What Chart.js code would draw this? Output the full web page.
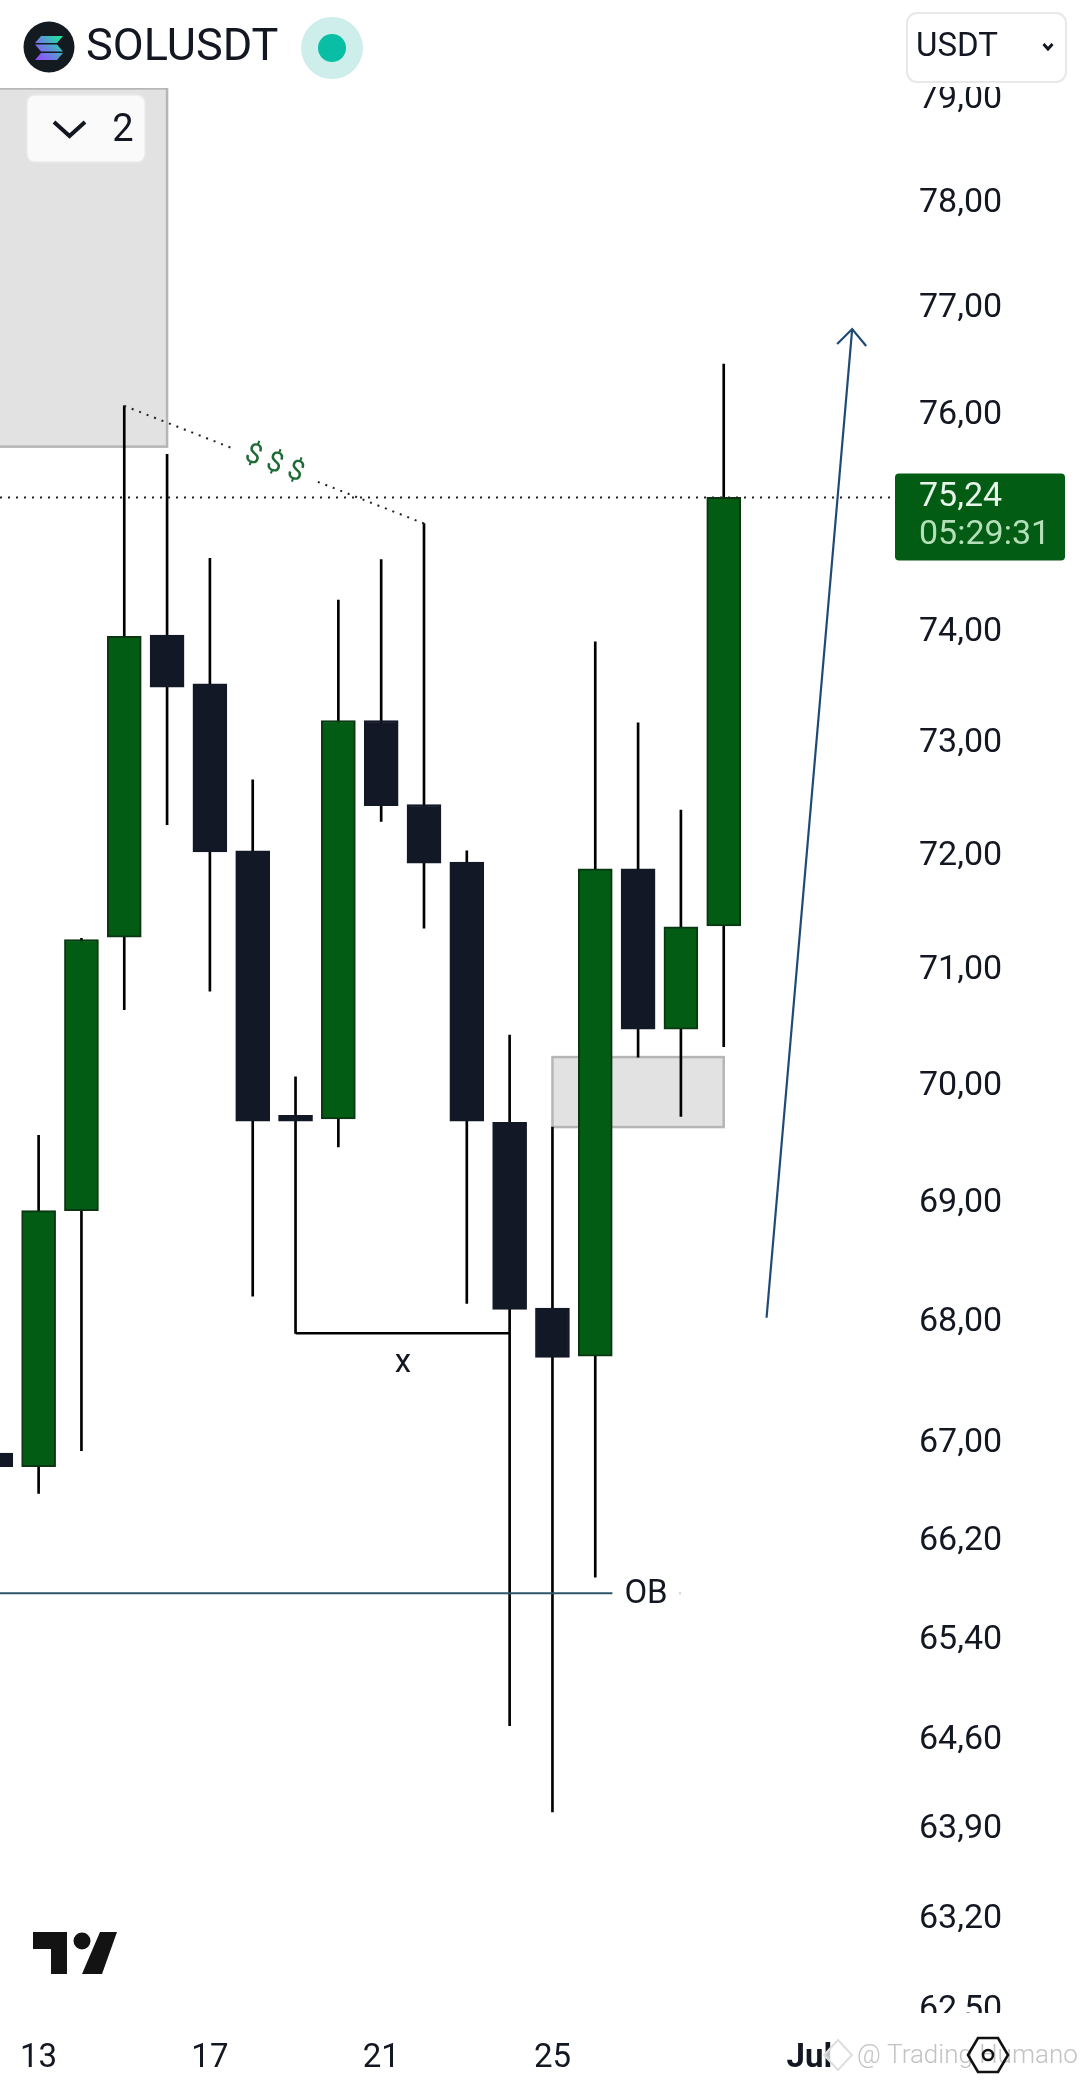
<!DOCTYPE html>
<html>
<head>
<meta charset="utf-8">
<style>html,body{margin:0;padding:0;background:#fff}#w{width:1080px;height:2080px;position:relative}</style>
<script src="https://cdn.jsdelivr.net/npm/chart.js@4"></script>
</head>
<body>
<div id="w"><canvas id="c" width="1080" height="2080"></canvas></div>
<script>
const days   = ['12','13','14','15','16','17','18','19','20','21','22','23','24','25','26','27','28','29'];
const opens  = [66.92,66.81,68.94,71.29,73.98,73.54,72.05,69.75,69.72,73.21,72.46,71.95,69.69,68.12,67.72,71.89,70.49,71.39];
const closes = [66.81,68.94,71.27,73.97,73.51,72.04,69.70,69.70,73.21,72.45,71.94,69.70,68.11,67.71,71.89,70.49,71.38,75.24];
const highs  = [66.92,69.58,71.28,76.09,75.64,74.68,72.68,70.08,74.30,74.67,75.00,72.05,70.44,69.65,73.92,73.19,72.41,76.48];
const lows   = [66.81,66.59,66.94,70.66,72.28,70.82,68.22,67.91,69.48,72.31,71.37,68.16,64.72,64.04,65.91,70.25,69.74,70.34];

const priceTicks = [79,78,77,76,74,73,72,71,70,69,68,67,66.2,65.4,64.6,63.9,63.2,62.5];
const timeTickIndex = [1,5,9,13,19];
const timeTickLabels = ['13','17','21','25','Jul'];

const lastPrice = 75.24;
const countdown = '05:29:31';
const supplyZone = [-1,4,79.11,75.71];
const demandZone = [13,17,70.25,69.65];
const trendFrom = [3,76.09];
const trendTo = [10,75.00];
const sweepFrom = [7,67.91];
const sweepTo = [12,67.91];
const obLevel = 65.78;
const obEndIndex = 14.4;
const arrowFrom = [18,68.04];
const arrowTo = [20,76.81];

const GREEN='#035c13', GREEN_EDGE='#0a3612', DARK='#121826', INK='#131722';
const FONT='Roboto, sans-serif';
const AREA={right:892,top:88,bottom:2013};

function rrect(ctx,x,y,w,h,r){ctx.beginPath();ctx.roundRect(x,y,w,h,r);}

const overlay={
  id:'overlay',
  beforeDatasetsDraw(chart){
    const {ctx,chartArea:a,scales:{x,y}}=chart;
    ctx.save();ctx.beginPath();ctx.rect(a.left,a.top,a.right-a.left,a.bottom-a.top);ctx.clip();
    for(const z of [supplyZone,demandZone]){
      const l=x.getPixelForValue(z[0]),r=x.getPixelForValue(z[1]),t=y.getPixelForValue(z[2]),b=y.getPixelForValue(z[3]);
      ctx.fillStyle='#e2e2e2';ctx.fillRect(l,t,r-l,b-t);
      ctx.strokeStyle='#b6b6b6';ctx.lineWidth=2.5;ctx.strokeRect(l,t,r-l,b-t);
    }
    ctx.restore();
  },
  afterDatasetsDraw(chart){
    const {ctx,chartArea:a,scales:{x,y}}=chart;
    ctx.save();ctx.beginPath();ctx.rect(a.left,a.top,a.right-a.left,a.bottom-a.top);ctx.clip();
    // price line
    const py=y.getPixelForValue(lastPrice);
    ctx.strokeStyle='#222';ctx.lineWidth=2;ctx.setLineDash([2,6]);
    ctx.beginPath();ctx.moveTo(0,py);ctx.lineTo(a.right,py);ctx.stroke();
    // trend dotted
    const tx1=x.getPixelForValue(trendFrom[0]),ty1=y.getPixelForValue(trendFrom[1]),tx2=x.getPixelForValue(trendTo[0]),ty2=y.getPixelForValue(trendTo[1]);
    ctx.beginPath();ctx.moveTo(tx1,ty1);ctx.lineTo(tx2,ty2);ctx.stroke();
    ctx.setLineDash([]);
    const ang=Math.atan2(ty2-ty1,tx2-tx1);
    const mx=274,my=465;
    ctx.save();ctx.translate(mx,my);ctx.rotate(ang);
    ctx.fillStyle='#fff';ctx.fillRect(-42,-13,84,26);
    ctx.fillStyle='#1d6b35';ctx.font='28px '+FONT;ctx.textAlign='center';ctx.textBaseline='middle';
    ctx.fillText('$ $ $',0,-1);
    ctx.restore();
    // sweep line
    ctx.strokeStyle='#000';ctx.lineWidth=2.5;
    const sy=y.getPixelForValue(sweepFrom[1]);
    ctx.beginPath();ctx.moveTo(x.getPixelForValue(sweepFrom[0]),sy);ctx.lineTo(x.getPixelForValue(sweepTo[0]),sy);ctx.stroke();
    ctx.fillStyle='#131722';ctx.font='33px '+FONT;ctx.textAlign='center';ctx.textBaseline='middle';
    ctx.fillText('x',403,sy+30);
    // OB line
    const oy=y.getPixelForValue(obLevel),ox=x.getPixelForValue(obEndIndex);
    ctx.strokeStyle='#2f5468';ctx.lineWidth=2.2;
    ctx.beginPath();ctx.moveTo(0,oy);ctx.lineTo(ox,oy);ctx.stroke();
    ctx.fillStyle='#131722';ctx.textAlign='left';
    ctx.fillText('OB',ox+12,oy+1);
    ctx.fillStyle='#cfcfcf';ctx.fillRect(679,oy-1,2,2);
    // arrow
    const ax1=x.getPixelForValue(arrowFrom[0]),ay1=y.getPixelForValue(arrowFrom[1]),ax2=x.getPixelForValue(arrowTo[0]),ay2=y.getPixelForValue(arrowTo[1]);
    ctx.strokeStyle='#1f4a75';ctx.lineWidth=2.2;
    ctx.beginPath();ctx.moveTo(ax1,ay1);ctx.lineTo(ax2,ay2);ctx.stroke();
    ctx.beginPath();ctx.moveTo(ax2-15,ay2+15);ctx.lineTo(ax2,ay2);ctx.lineTo(ax2+14,ay2+17);ctx.stroke();
    ctx.restore();
  },
  afterDraw(chart){
    const {ctx,chartArea:a,scales:{y}}=chart;
    ctx.save();
    // clip price labels at the pane edges
    ctx.fillStyle='#fff';
    ctx.fillRect(0,0,1080,AREA.top-1);
    ctx.fillRect(a.right,AREA.bottom,188,22);
    // price tag
    const py=y.getPixelForValue(lastPrice);
    ctx.fillStyle=GREEN;rrect(ctx,895,py-24,170,87,4);ctx.fill();
    ctx.font='34px '+FONT;ctx.textAlign='left';ctx.textBaseline='middle';
    ctx.fillStyle='#e9f5ea';ctx.fillText(lastPrice.toFixed(2).replace('.',','),919,py);
    ctx.fillStyle='#b5dfb8';ctx.fillText(countdown,919,py+38);
    // header: symbol
    ctx.fillStyle='#131a20';ctx.beginPath();ctx.arc(49,47,25.5,0,7);ctx.fill();
    const g=ctx.createLinearGradient(36,60,62,36);g.addColorStop(0,'#9945ff');g.addColorStop(.5,'#5f8fd8');g.addColorStop(1,'#14f195');
    ctx.fillStyle=g;
    for(const [yy,skew] of [[36,1],[44.5,-1],[53,1]]){
      ctx.beginPath();
      if(skew>0){ctx.moveTo(41,yy);ctx.lineTo(63,yy);ctx.lineTo(57,yy+7);ctx.lineTo(35,yy+7);}
      else{ctx.moveTo(35,yy);ctx.lineTo(57,yy);ctx.lineTo(63,yy+7);ctx.lineTo(41,yy+7);}
      ctx.closePath();ctx.fill();
    }
    ctx.fillStyle=INK;ctx.font='45px '+FONT;ctx.fillText('SOLUSDT',86,49);
    ctx.fillStyle='#cdeeea';ctx.beginPath();ctx.arc(332,48,31,0,7);ctx.fill();
    ctx.fillStyle='#08bfa5';ctx.beginPath();ctx.arc(332,48,14,0,7);ctx.fill();
    // currency box
    ctx.fillStyle='#fff';ctx.strokeStyle='#e8e8e8';ctx.lineWidth=2;rrect(ctx,907,13,159,69,10);ctx.fill();ctx.stroke();
    ctx.fillStyle=INK;ctx.font='33px '+FONT;ctx.fillText('USDT',916,48);
    ctx.strokeStyle=INK;ctx.lineWidth=3;ctx.beginPath();ctx.moveTo(1043.5,44);ctx.lineTo(1048,49);ctx.lineTo(1052.5,44);ctx.stroke();
    // collapse button
    ctx.fillStyle='#fafafa';ctx.strokeStyle='#ececec';ctx.lineWidth=1.5;rrect(ctx,27,95,118,67,8);ctx.fill();ctx.stroke();
    ctx.strokeStyle=INK;ctx.lineWidth=4;ctx.beginPath();ctx.moveTo(54,122);ctx.lineTo(69.5,136);ctx.lineTo(85,122);ctx.stroke();
    ctx.fillStyle=INK;ctx.font='38px '+FONT;ctx.textAlign='center';ctx.fillText('2',123,131);
    // TradingView logo
    ctx.fillStyle='#131313';
    ctx.fillRect(33,1932,34,17);ctx.fillRect(51,1932,16,42);
    ctx.beginPath();ctx.arc(82,1941,8.5,0,7);ctx.fill();
    ctx.beginPath();ctx.moveTo(100,1932);ctx.lineTo(117,1932);ctx.lineTo(102,1974);ctx.lineTo(82,1974);ctx.closePath();ctx.fill();
    // watermark
    ctx.fillStyle='rgba(255,255,255,.75)';ctx.beginPath();ctx.moveTo(838,2040);ctx.lineTo(852,2055);ctx.lineTo(838,2070);ctx.lineTo(824,2055);ctx.closePath();ctx.fill();
    ctx.strokeStyle='#dedede';ctx.lineWidth=2;ctx.stroke();
    ctx.fillStyle='#c2c2c2';ctx.font='300 26px '+FONT;ctx.textAlign='left';
    ctx.fillText('@ Trading Humano',857,2056);
    ctx.strokeStyle='#111';ctx.lineWidth=2.6;ctx.beginPath();
    ctx.moveTo(968,2055);ctx.lineTo(978,2038);ctx.lineTo(998,2038);ctx.lineTo(1008,2055);ctx.lineTo(998,2072);ctx.lineTo(978,2072);ctx.closePath();ctx.stroke();
    ctx.beginPath();ctx.arc(988,2055,5,0,7);ctx.stroke();
    ctx.restore();
  }
};

const colors=opens.map((o,i)=>closes[i]>=o?GREEN:DARK);
const edges=opens.map((o,i)=>closes[i]>=o?GREEN_EDGE:DARK);

new Chart(document.getElementById('c'),{
  type:'bar',
  data:{datasets:[
    {label:'body',order:1,barThickness:34,borderWidth:2,borderSkipped:false,grouped:false,
     backgroundColor:colors,borderColor:edges,
     data:days.map((d,i)=>({x:i,y:[opens[i],closes[i]]}))},
    {label:'wick',order:2,barThickness:2,borderWidth:0,grouped:false,
     backgroundColor:'#000',
     data:days.map((d,i)=>({x:i,y:[lows[i],highs[i]]}))}
  ]},
  options:{
    responsive:false,animation:false,devicePixelRatio:1,
    layout:{padding:{left:0,right:0,top:AREA.top,bottom:0}},
    plugins:{legend:{display:false},tooltip:{enabled:false}},
    scales:{
      x:{type:'linear',offset:false,min:0.098,max:20.93,
         grid:{display:false,drawTicks:false},border:{display:false},
         afterFit(s){s.height=2080-AREA.bottom;s.paddingLeft=0;s.paddingRight=0;},
         afterBuildTicks(s){s.ticks=timeTickIndex.map(v=>({value:v}));},
         ticks:{autoSkip:false,maxRotation:0,padding:26,color:INK,
                callback(v){return timeTickLabels[timeTickIndex.indexOf(v)];},
                font(c){return {family:'Roboto',size:33,weight:c.tick&&c.tick.value===19?'bold':'normal'};}}},
      y:{type:'logarithmic',position:'right',min:62.48,max:79.114,
         grid:{display:false,drawTicks:false},border:{display:false},
         afterFit(s){s.width=1080-AREA.right;},
         afterBuildTicks(s){s.ticks=priceTicks.map(v=>({value:v}));},
         ticks:{autoSkip:false,padding:27,crossAlign:'near',color:INK,
                font:{family:'Roboto',size:34},
                callback(v){return Number(v).toFixed(2).replace('.',',');}}}
    }
  },
  plugins:[overlay]
});
</script>
</body>
</html>
